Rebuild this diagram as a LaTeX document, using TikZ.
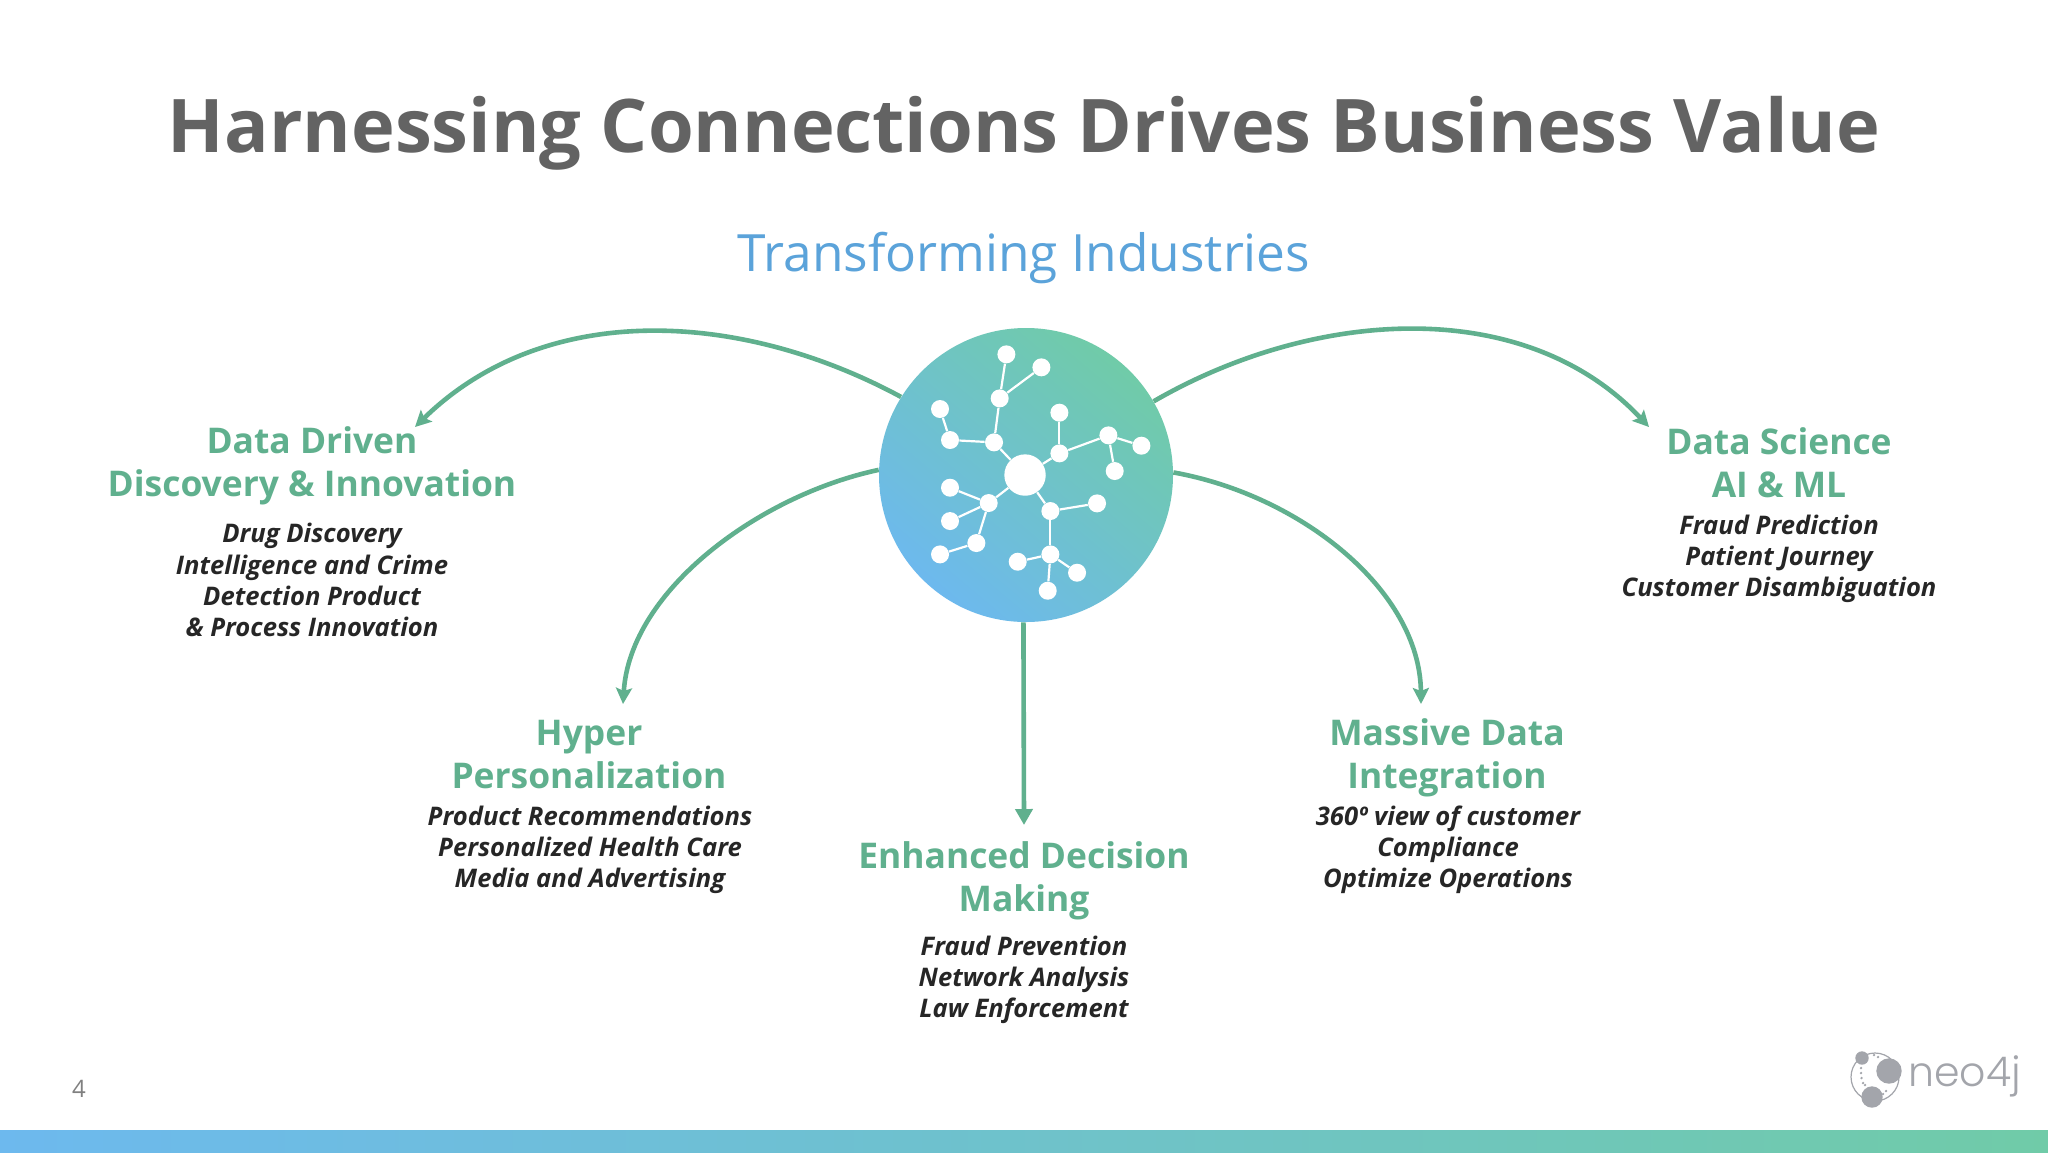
\documentclass[tikz,border=0pt]{standalone}
\usepackage{fontspec}
\setmainfont{Open Sans}
\newfontfamily\logofont{Poppins Light}
\usetikzlibrary{arrows.meta}
\definecolor{tgray}{HTML}{636363}
\definecolor{tblue}{HTML}{5BA3DA}
\definecolor{tgreen}{HTML}{60B08E}
\definecolor{gblue}{HTML}{6DB9EE}
\definecolor{ggreen}{HTML}{70CBA8}
\definecolor{lgray}{HTML}{A3A5AB}
\tikzset{
  titletext/.style={font=\fontsize{37}{41}\selectfont\bfseries,text=tgray,inner sep=0},
  subtext/.style={font=\fontsize{25.7}{30}\selectfont,text=tblue,inner sep=0},
  headtext/.style={font=\fontsize{17.7}{21.5}\selectfont\bfseries,text=tgreen,align=center,inner sep=0},
  bodytext/.style={font=\fontsize{12.8}{15.6}\selectfont\bfseries\itshape,text=black!85,align=center,inner sep=0},
  conn/.style={draw=tgreen,line width=2.3pt,-{Stealth[length=8pt,width=8pt,inset=1.5pt]}},
  dot/.style={circle,fill=white,inner sep=0,minimum size=9pt},
  link/.style={draw=white,line width=1.1pt},
}
\begin{document}
\begin{tikzpicture}[x=0.5pt,y=-0.5pt]
\useasboundingbox (0,0) rectangle (2048,1152);
\fill[white] (0,0) rectangle (2048,1152);
\fill[left color=gblue,right color=ggreen] (0,1130) rectangle (2048,1152);

\node[titletext] (title) at (1024,133) {Harnessing Connections Drives Business Value};
\node[subtext] (sub) at (1024,258) {Transforming Industries};

\node[circle,minimum size=147pt,inner sep=0,left color=gblue,right color=ggreen,shading angle=140] (hub) at (1026,475) {};

\coordinate (t1) at (415,427);
\coordinate (t2) at (1649,427);
\coordinate (t3) at (623,704);
\coordinate (t4) at (1421,704);
\coordinate (t5) at (1024,825);
\draw[conn] (hub.148) .. controls (740,310) and (545,300) .. (t1);
\draw[conn] (hub.30) .. controls (1315,308) and (1525,295) .. (t2);
\draw[conn] (hub.178) .. controls (760,495) and (630,590) .. (t3);
\draw[conn] (hub.1) .. controls (1300,495) and (1420,590) .. (t4);
\draw[conn,-{Triangle[length=8pt,width=8.5pt]}] (hub.269) -- (t5);

\begin{scope}[shift={(860,310)},x=0.1667pt,y=-0.1667pt]
\node[circle,fill=white,inner sep=0,minimum size=20.7pt] (c) at (495,495) {};
\foreach \n/\x/\y in {a/439/133,b/544/172,n3/419/265,d/240/297,e/270/390,f/402/397,g/598/308,h/598/430,i/745/376,j/844/407,k/764/483,l/270/533,m/386/579,n14/270/633,o/349/699,p/240/733,q/571/603,r/711/580,s/571/733,u1/473/755,u/651/788,v/563/842}
  \node[dot] (\n) at (\x,\y) {};
\foreach \p/\q in {c/f,f/e,e/d,f/n3,n3/a,n3/b,c/h,h/g,h/i,i/j,i/k,c/m,m/l,m/n14,m/o,o/p,c/q,q/r,q/s,s/u1,s/u,s/v}
  \draw[link] (\p) -- (\q);
\end{scope}

\node[headtext] (h1) at (312,466) {Data Driven\\Discovery \& Innovation};
\node[bodytext] (b1) at (312,580) {Drug Discovery\\Intelligence and Crime\\Detection Product\\\& Process Innovation};
\node[headtext] (h2) at (1779,463) {Data Science\\AI \& ML};
\node[bodytext] (b2) at (1779,559) {Fraud Prediction\\Patient Journey\\Customer Disambiguation};
\node[headtext] (h3) at (589,755) {Hyper\\Personalization};
\node[bodytext] (b3) at (590,850) {Product Recommendations\\Personalized Health Care\\Media and Advertising};
\node[headtext] (h4) at (1024,881) {Enhanced Decision\\Making};
\node[bodytext] (b4) at (1024,980) {Fraud Prevention\\Network Analysis\\Law Enforcement};
\node[headtext] (h5) at (1447,758) {Massive Data\\Integration};
\node[bodytext] (b5) at (1448,850) {360º view of customer\\Compliance\\Optimize Operations};

\node[font=\fontsize{12}{14}\selectfont,text=gray,inner sep=0] (pg) at (79,1089) {4};

% logo
\draw[lgray,line width=0.6pt] (1875,1077) circle (24);
\fill[lgray] (1889,1071) circle (12.7);
\fill[lgray] (1862,1058) circle (6.7);
\fill[lgray] (1872,1097) circle (10.7);
\foreach \x/\y in {1861/1068,1861/1073,1861.5/1078,1863/1083,1865/1085,1874/1055,1878/1057,1886/1091,1883/1094}
  \fill[lgray] (\x,\y) circle (1.3);
\node[font=\logofont\fontsize{20.5}{24}\selectfont,text=lgray,anchor=base west,inner sep=0] (logo) at (1908,1086) {neo4j};
\end{tikzpicture}
\end{document}
